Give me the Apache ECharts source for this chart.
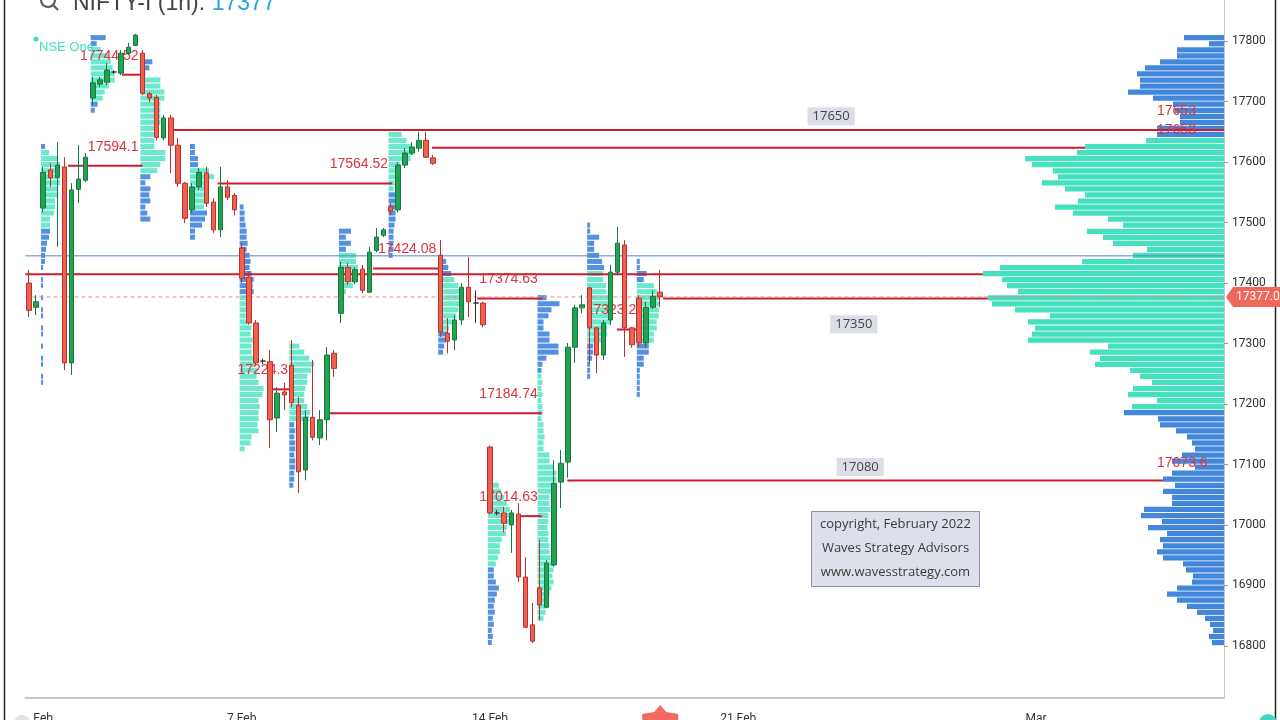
<!DOCTYPE html>
<html><head><meta charset="utf-8">
<script src="https://cdn.jsdelivr.net/npm/echarts@6/dist/echarts.min.js"></script>
<style>html,body{margin:0;padding:0;background:#fff;}#c{width:1280px;height:720px;}</style>
</head><body><div id="c"></div><script>
// ---------------- DATA ----------------
const tradingDays = ['31 Jan','1 Feb','2 Feb','3 Feb','4 Feb','7 Feb','8 Feb','9 Feb','10 Feb','11 Feb','14 Feb','15 Feb','16 Feb','17 Feb','18 Feb','21 Feb','22 Feb','23 Feb','24 Feb','25 Feb','28 Feb','1 Mar','2 Mar','3 Mar','4 Mar'];
const sessionHours = ['09:15','10:15','11:15','12:15','13:15','14:15','15:15'];
const tickDays = ['1 Feb','7 Feb','14 Feb','21 Feb','1 Mar'];
const tickLabels = ['Feb','7 Feb','14 Feb','21 Feb','Mar'];
const yTickValues = [16800,16900,17000,17100,17200,17300,17400,17500,17600,17700,17800];

const candleOpen  = [17400,17360,17524,17587,17575,17592,17268,17555,17570,17706,17729,17732,17749,17747,17780,17793,17780,17713,17707,17640,17673,17628,17565,17521,17559,17582,17534,17488,17559,17545,17458,17410,17334,17271,17270,17177,17220,17264,17198,17091,17178,17144,17174,17284,17350,17426,17402,17423,17385,17454,17479,17526,17521,17595,17615,17623,17636,17607,17446,17317,17306,17339,17393,17367,17367,17129,17020,17020,17000,17018,16914,16835,16896,16864,16934,17071,17104,17294,17359,17392,17326,17281,17339,17418,17463,17326,17375,17301,17360,17385];
const candleClose = [17355,17369,17583,17574,17595,17268,17554,17572,17608,17731,17736,17752,17749,17780,17790,17810,17714,17706,17641,17673,17628,17565,17507,17559,17583,17532,17488,17559,17542,17521,17408,17334,17268,17271,17174,17218,17215,17202,17088,17178,17145,17174,17281,17259,17426,17402,17422,17388,17451,17476,17488,17519,17595,17615,17625,17636,17608,17598,17319,17304,17339,17393,17369,17367,17331,17020,17020,17003,17020,16914,16831,16808,16868,16937,17069,17102,17294,17359,17364,17326,17281,17334,17418,17466,17326,17298,17301,17360,17378,17377];
const candleLow   = [17344,17347,17517,17559,17460,17256,17248,17532,17567,17694,17724,17727,17746,17744,17777,17792,17711,17699,17636,17636,17582,17559,17499,17516,17554,17526,17483,17476,17537,17512,17400,17331,17264,17266,17127,17154,17190,17195,17053,17074,17140,17132,17140,17245,17334,17397,17398,17383,17383,17451,17476,17512,17517,17590,17612,17617,17607,17595,17311,17284,17289,17331,17344,17334,17327,17018,17016,16988,16954,16906,16830,16805,16843,16863,16931,17028,17078,17268,17350,17268,17251,17273,17331,17413,17278,17293,17294,17294,17357,17360];
const candleHigh  = [17422,17380,17592,17598,17633,17608,17565,17628,17615,17741,17741,17764,17752,17785,17797,17812,17785,17716,17711,17678,17678,17640,17567,17565,17590,17592,17540,17592,17570,17549,17466,17418,17339,17275,17289,17228,17235,17306,17212,17190,17273,17190,17294,17289,17435,17433,17426,17430,17460,17491,17491,17532,17600,17623,17633,17650,17650,17612,17471,17342,17347,17400,17443,17388,17369,17131,17025,17030,17025,17036,16947,16871,16975,16942,17107,17124,17301,17364,17380,17393,17327,17339,17430,17493,17471,17327,17380,17369,17388,17422];

// session volume profiles (10-point bins, top to bottom)
const sessionDays   = ['1 Feb','2 Feb','3 Feb','4 Feb','7 Feb','8 Feb','9 Feb','10 Feb','11 Feb','14 Feb','15 Feb','16 Feb','17 Feb'];
const sessionTops   = [17630,17810,17770,17630,17530,17300,17490,17650,17440,17070,17380,17500,17440];
const sessionVAHigh = [17620,17790,17740,17590,17380,17300,17450,17650,17410,17070,17250,17420,17400];
const sessionVALow  = [17490,17700,17580,17520,17120,17170,17380,17550,17320,16930,16840,17300,17300];
const sessionVolumes = [
  [4,8,16,19,19,19,19,16,16,14,14,13,9,9,9,8,6,5,4,4,2,0,2,2,0,2,0,2,2,0,2,2,0,2,0,2,2,0,2,2],
  [15,6,10,18,20,22,24,24,18,14,12,7,4],
  [12,9,5,20,20,24,24,20,20,20,20,14,14,14,14,25,25,20,17,10,5,10,9,10,5,7,10],
  [5,5,8,8,19,24,19,19,19,19,14,17,15,12,5,5],
  [4,5,5,6,7,7,8,7,10,11,10,12,14,13,14,7,8,7,6,8,12,11,13,12,12,17,16,18,17,19,24,23,19,20,19,19,18,19,12,11,5],
  [10,15,20,25,22,18,18,16,15,15,18,21,20,5,6,5,6,6,5,6,6,5,5,4],
  [12,7,12,7,17,17,19,19,14,14,7,4],
  [13,18,23,25,22,12,10,8,6,5,10,10,8,7,7,6,5,5,5,5,4],
  [8,10,13,16,20,25,25,22,20,18,15,11,10,8,6,5],
  [11,13,16,19,22,22,22,19,18,14,12,12,10,8,6,6,8,11,9,7,6,7,5,6,4,5,4],
  [9,22,14,11,6,6,12,12,21,21,9,5,4,4,5,4,5,4,5,5,4,6,6,7,6,6,12,12,16,19,19,18,17,12,12,13,11,11,10,11,11,12,12,13,16,16,15,16,14,12,9,9,8,6],
  [3,3,12,7,7,12,15,17,16,16,19,19,26,26,25,24,24,20,20,18,6,6,5,3,3,3],
  [3,3,10,7,17,20,23,23,22,22,20,20,17,17,12,12,7,7,3,3,3,3,3]
];

// visible-range volume profile (right side)
const rangeTop = 17810, rangeVAHigh = 17640, rangeVALow = 17190;
const rangeVolumes = [40,15,47,47,64,79,87,84,84,96,71,51,49,44,44,67,67,
  78,139,147,199,192,171,166,182,159,139,146,169,151,116,101,137,121,111,77,91,142,224,241,222,217,206,236,232,209,174,196,189,192,196,116,134,124,129,94,84,72,91,96,67,92,
  100,66,64,48,37,32,29,42,52,29,52,61,49,61,52,52,80,83,62,76,57,64,61,67,61,41,38,31,32,47,57,47,37,27,19,14,11,15,12];

// level lines (POC / drawn levels)
const levelValues   = [17744.52,17594.1,17652.9,17623.7,17564.52,17424.08,17414.4,17374.63,17374.63,17323.2,17224.3,17184.74,17073.6,17014.63];
const levelStart    = [13.1,5.5,20.3,56.8,26.6,48.5,-0.5,63.2,89.4,82.9,34.4,42.0,75.9,69.2];
const levelEnd      = [16.0,16.0,168.5,148.9,51.2,58.0,134.5,72.3,135.2,86.2,37.1,72.3,159.9,72.3];
const levelLabelled = [1,1,0,0,1,1,0,1,0,1,1,1,0,1];

const blueLevel = 17445;
const currentPrice = 17377;

// boxed annotations
const noteTexts  = ['17650','17350','17080'];
const noteSlots  = [113.1,116.3,117.2];
const noteValues = [17676,17332,17096];

// red value tags on the right profile
const tagTexts  = ['17653','17653','17073.6'];
const tagSlots  = [159.05,159.05,159.05];
const tagValues = [17684,17653,17103];

// ---------------- BUILD ----------------
const categories = [];
tradingDays.forEach(d => sessionHours.forEach(h => categories.push(d + ' ' + h)));
const visibleCategories = categories.slice(5, 5 + 169);
const lastSlot = visibleCategories.length - 0.5;

function tickIndex(v) {
  const k = v.lastIndexOf(' ');
  return v.slice(k + 1) === '09:15' ? tickDays.indexOf(v.slice(0, k)) : -1;
}

const BIN = 10;
const volToSlots = 1 / 7.092;
const AXISFONT = "Roboto, 'Liberation Sans', sans-serif";
const TEAL_S = 'rgba(66,226,190,0.78)', BLUE_S = 'rgba(66,133,222,0.9)';
const TEAL_R = '#45e0bd', BLUE_R = '#4287dc';

const profileData = [];
sessionDays.forEach((d, s) => {
  const anchor = visibleCategories.indexOf(d + ' 09:15') - 0.3;
  sessionVolumes[s].forEach((v, i) => {
    const t = sessionTops[s] - i * BIN;
    const va = (t <= sessionVAHigh[s] && t - BIN >= sessionVALow[s]) ? 1 : 0;
    profileData.push([anchor, t, v, va, 1, 0]);
  });
});
rangeVolumes.forEach((v, i) => {
  const t = rangeTop - i * BIN;
  const va = (t <= rangeVAHigh && t - BIN >= rangeVALow) ? 1 : 0;
  profileData.push([lastSlot, t, v, va, -1, 1]);
});

const levelData = levelValues.map((v, i) => [levelStart[i], levelEnd[i], v, levelLabelled[i]]);
const candleData = candleOpen.map((o, i) => [o, candleClose[i], candleLow[i], candleHigh[i]]);

const option = {
  animation: false,
  backgroundColor: '#ffffff',
  grid: { left: 25.45, right: 56, top: 0, bottom: 22, containLabel: false, outerBoundsMode: 'none' },
  xAxis: [
    { type: 'category', data: visibleCategories, boundaryGap: true,
      axisLine: { onZero: false, lineStyle: { color: '#c8c8c8', width: 2 } },
      axisTick: { show: false }, splitLine: { show: false },
      axisLabel: { interval: (i, v) => tickIndex(v) >= 0, formatter: v => tickLabels[tickIndex(v)],
        color: '#333', fontSize: 12, fontFamily: AXISFONT, margin: 15 } },
    { type: 'value', min: -0.5, max: lastSlot, show: false, axisLine: { onZero: false } }
  ],
  yAxis: [{
    type: 'value', position: 'right', min: 16714, max: 17868,
    axisLine: { show: true, onZero: false, lineStyle: { color: '#c8c8c8' } },
    axisTick: { show: true, length: 4, lineStyle: { color: '#9a9a9a' }, customValues: yTickValues },
    axisLabel: { customValues: yTickValues, formatter: v => String(v), color: '#333', fontSize: 12, fontFamily: AXISFONT, margin: 8 },
    splitLine: { show: false }
  }],
  series: [
    { type: 'custom', name: 'profiles', xAxisIndex: 1, yAxisIndex: 0, z: 1, silent: true,
      encode: { x: 0, y: 1 }, data: profileData,
      renderItem: (params, api) => {
        const a = api.value(0), t = api.value(1), v = api.value(2), va = api.value(3), dir = api.value(4), kind = api.value(5);
        if (!v) return null;
        const p1 = api.coord([a, t]);
        const p2 = api.coord([a + dir * v * volToSlots, t - BIN]);
        const gap = kind ? 0.8 : 1;
        const fill = kind ? (va ? TEAL_R : BLUE_R) : (va ? TEAL_S : BLUE_S);
        return { type: 'rect', shape: { x: Math.min(p1[0], p2[0]), y: p1[1], width: Math.abs(p2[0] - p1[0]), height: p2[1] - p1[1] - gap }, style: { fill } };
      } },
    { type: 'line', xAxisIndex: 1, yAxisIndex: 0, z: 2, symbol: 'none', silent: true,
      data: [[-0.5, blueLevel], [lastSlot, blueLevel]], lineStyle: { color: '#5784c6', width: 1 } },
    { type: 'line', xAxisIndex: 1, yAxisIndex: 0, z: 2, symbol: 'none', silent: true,
      data: [[-0.5, currentPrice], [lastSlot, currentPrice]], lineStyle: { color: '#ef8a80', width: 1, type: [4, 3] } },
    { type: 'custom', name: 'levels', xAxisIndex: 1, yAxisIndex: 0, z: 2, silent: true,
      encode: { x: [0, 1], y: 2 }, data: levelData,
      renderItem: (params, api) => {
        const s = api.value(0), e = api.value(1), v = api.value(2), lab = api.value(3);
        const p1 = api.coord([s, v]), p2 = api.coord([e, v]);
        const children = [{ type: 'line', shape: { x1: p1[0], y1: p1[1], x2: p2[0], y2: p2[1] }, style: { stroke: '#cc1d2f', lineWidth: 2 } }];
        if (lab) children.push({ type: 'text', style: { text: String(v), x: p2[0] - 4, y: p1[1] - 19, align: 'right', verticalAlign: 'middle', fill: '#d8353d', font: "14px 'Liberation Sans', Arial, sans-serif" } });
        return { type: 'group', children };
      } },
    { type: 'candlestick', xAxisIndex: 0, yAxisIndex: 0, z: 3, barWidth: 5, data: candleData,
      itemStyle: { color: '#22a352', color0: '#f0604f', borderColor: '#17773f', borderColor0: '#b8312f', borderColorDoji: '#333', borderWidth: 1 } },
    { type: 'custom', name: 'notes', xAxisIndex: 1, yAxisIndex: 0, z: 5, silent: true,
      encode: { x: 0, y: 1 }, data: noteSlots.map((s, i) => [s, noteValues[i], i]),
      renderItem: (params, api) => {
        const p = api.coord([api.value(0), api.value(1)]);
        return { type: 'text', style: { text: noteTexts[api.value(2)], x: p[0], y: p[1], align: 'center', verticalAlign: 'middle', fill: '#444', font: "13px 'Open Sans', sans-serif", backgroundColor: '#dcdee7', padding: [3, 5, 2, 5] } };
      } },
    { type: 'custom', name: 'tags', xAxisIndex: 1, yAxisIndex: 0, z: 5, silent: true,
      encode: { x: 0, y: 1 }, data: tagSlots.map((s, i) => [s, tagValues[i], i]),
      renderItem: (params, api) => {
        const p = api.coord([api.value(0), api.value(1)]);
        return { type: 'text', style: { text: tagTexts[api.value(2)], x: p[0], y: p[1], align: 'left', verticalAlign: 'middle', fill: '#d8353d', font: "14px 'Liberation Sans', Arial, sans-serif" } };
      } }
  ]
};

const chart = echarts.init(document.getElementById('c'), null, { renderer: 'canvas', width: 1280, height: 720 });
chart.setOption(option);

const tagY = chart.convertToPixel({ yAxisIndex: 0 }, currentPrice);
const mX = chart.convertToPixel({ xAxisIndex: 1 }, candleOpen.length - 1);
chart.setOption({ graphic: [
  { type: 'line', shape: { x1: 4.5, y1: 0, x2: 4.5, y2: 720 }, style: { stroke: '#222', lineWidth: 1.5 }, z: 10 },
  { type: 'line', shape: { x1: 1275.5, y1: 0, x2: 1275.5, y2: 720 }, style: { stroke: '#222', lineWidth: 1.5 }, z: 10 },
  { type: 'circle', shape: { cx: 48, cy: 0, r: 7 }, style: { fill: 'none', stroke: '#555', lineWidth: 2 }, z: 10 },
  { type: 'line', shape: { x1: 53, y1: 5, x2: 58, y2: 10 }, style: { stroke: '#555', lineWidth: 2 }, z: 10 },
  { type: 'text', x: 73, y: 15, z: 10, style: { text: '{a|NIFTY-I (1h):}  {b|' + currentPrice + '}', verticalAlign: 'bottom',
      rich: { a: { fill: '#444', font: "23px 'Liberation Sans', Arial, sans-serif" }, b: { fill: '#2aa8d0', font: "23px 'Liberation Sans', Arial, sans-serif" } } } },
  { type: 'circle', shape: { cx: 36, cy: 39, r: 2.5 }, style: { fill: '#3fd9c0' }, z: 10 },
  { type: 'text', x: 39, y: 47, z: 10, style: { text: 'NSE One', fill: '#3fe0c0', font: "13px 'Liberation Sans', Arial, sans-serif", verticalAlign: 'middle' } },
  { type: 'rect', shape: { x: 811.5, y: 511.5, width: 168, height: 75 }, style: { fill: '#dde0ea', stroke: '#8c91a3', lineWidth: 1 }, z: 10 },
  { type: 'text', x: 895.5, y: 524, z: 11, style: { text: 'copyright, February 2022', align: 'center', verticalAlign: 'middle', fill: '#3a3a3a', font: "13px 'Open Sans', sans-serif" } },
  { type: 'text', x: 895.5, y: 548, z: 11, style: { text: 'Waves Strategy Advisors', align: 'center', verticalAlign: 'middle', fill: '#3a3a3a', font: "13px 'Open Sans', sans-serif" } },
  { type: 'text', x: 895.5, y: 572, z: 11, style: { text: 'www.wavesstrategy.com', align: 'center', verticalAlign: 'middle', fill: '#3a3a3a', font: "13px 'Open Sans', sans-serif" } },
  { type: 'polygon', shape: { points: [[1226, tagY], [1233, tagY - 10], [1280, tagY - 10], [1280, tagY + 10], [1233, tagY + 10]] }, style: { fill: '#f0675c' }, z: 10 },
  { type: 'text', x: 1236, y: tagY, z: 11, style: { text: currentPrice.toFixed(1), fill: '#fff', font: "12px " + AXISFONT, verticalAlign: 'middle' } },
  { type: 'polygon', shape: { points: [[mX - 18, 721], [mX - 18, 714], [mX - 6, 712], [mX, 705], [mX + 6, 712], [mX + 18, 714], [mX + 18, 721]] }, style: { fill: '#f26b63' }, z: 10 },
  { type: 'circle', shape: { cx: 22, cy: 723, r: 8 }, style: { fill: '#e4e4e4' }, z: 10 },
  { type: 'circle', shape: { cx: 1268, cy: 723, r: 9 }, style: { fill: '#3fd9c0' }, z: 10 }
] });
</script></body></html>
